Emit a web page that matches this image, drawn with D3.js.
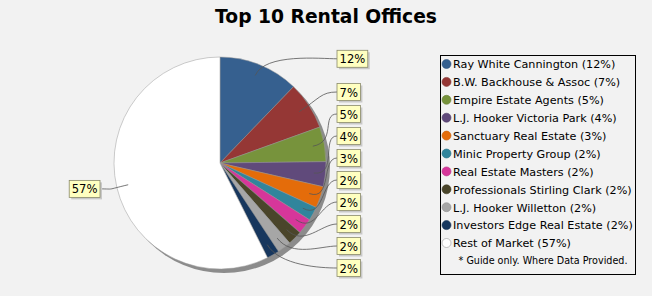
<!DOCTYPE html>
<html>
<head>
<meta charset="utf-8">
<script src="https://cdn.jsdelivr.net/npm/d3@7"></script>
<style>
  body { margin: 0; background: #f2f2f2; }
  svg { display: block; font-family: "DejaVu Sans", sans-serif; }
</style>
</head>
<body>
<div id="chart"></div>
<script>
// slices, clockwise from 12 o'clock
const offices = [
  "Ray White Cannington", "B.W. Backhouse & Assoc", "Empire Estate Agents",
  "L.J. Hooker Victoria Park", "Sanctuary Real Estate", "Minic Property Group",
  "Real Estate Masters", "Professionals Stirling Clark", "L.J. Hooker Willetton",
  "Investors Edge Real Estate", "Rest of Market"
];
const shares = [12.2, 7.3, 5.3, 3.8, 3.3, 2.1, 2.4, 2.2, 2.1, 1.9, 57.4];
const colors = [
  "#36608f", "#953735", "#77933c", "#604a7b", "#e46c0a", "#31859c",
  "#d6369a", "#4a452a", "#a6a6a6", "#17375e", "#ffffff"
];
const title = "Top 10 Rental Offices";
const footnote = "* Guide only. Where Data Provided.";

const width = 652, height = 296;
const cx = 220, cy = 163, r = 106;

const data = offices.map((name, i) => ({ name, share: shares[i], color: colors[i] }));
const pct = d => Math.round(d.share) + "%";

const svg = d3.select("#chart").append("svg")
  .attr("width", width).attr("height", height);

svg.append("rect").attr("width", width).attr("height", height).attr("fill", "#f2f2f2");

svg.append("text")
  .attr("x", 326).attr("y", 23)
  .attr("text-anchor", "middle")
  .style("font-size", "18.7px").style("font-weight", "bold")
  .text(title);

const pie = d3.pie().sort(null).value(d => d.share);
const arcs = pie(data);
const arc = d3.arc().innerRadius(0).outerRadius(r);

const g = svg.append("g").attr("transform", `translate(${cx},${cy})`);

// shadow
g.append("circle").attr("cx", 4).attr("cy", 4).attr("r", r).attr("fill", "#8c8c8c");

g.selectAll("path.slice")
  .data(arcs)
  .join("path")
  .attr("class", "slice")
  .attr("d", arc)
  .attr("fill", d => d.data.color)
  .attr("stroke", "#9a9a9a")
  .attr("stroke-width", 0.5);

// labels
const mid = d => (d.startAngle + d.endAngle) / 2;
const gap = 22, bottomY = 268 - cy;
const idealY = d => -Math.cos(mid(d)) * r * 1.06;

const right = arcs.filter(d => mid(d) < Math.PI);
const left = arcs.filter(d => mid(d) >= Math.PI);

// pack right side labels upward from the bottom bound
right.forEach(d => d.ly = idealY(d));
for (let i = right.length - 1; i >= 0; i--) {
  if (i === right.length - 1) { right[i].ly = bottomY; continue; }
  right[i].ly = Math.min(right[i].ly, right[i + 1].ly - gap);
}
right.forEach(d => { d.side = 1; d.lx = r + 11; });
left.forEach(d => { d.side = -1; d.lx = -(r + 14); d.ly = idealY(d); });

const labelled = right.concat(left);

const linkG = g.append("g");
labelled.forEach(d => {
  const a = mid(d);
  const ax = Math.sin(a) * r * 0.89, ay = -Math.cos(a) * r * 0.89;
  const c1x = Math.sin(a) * r * 1.12, c1y = -Math.cos(a) * r * 1.12;
  const c2x = d.lx - d.side * 16, c2y = d.ly;
  linkG.append("path")
    .attr("d", `M${ax},${ay} C${c1x},${c1y} ${c2x},${c2y} ${d.lx},${d.ly}`)
    .attr("fill", "none")
    .attr("stroke", "#555")
    .attr("stroke-width", 0.8);
});

const labG = g.selectAll("g.lab").data(labelled).join("g").attr("class", "lab");
labG.each(function (d) {
  const sel = d3.select(this);
  const t = sel.append("text")
    .attr("y", d.ly + 4.5)
    .style("font-size", "11.6px")
    .text(pct(d.data));
  const w = t.node().getComputedTextLength() + 5;
  const x0 = d.side > 0 ? d.lx : d.lx - w;
  t.attr("x", x0 + 2.5);
  sel.insert("rect", "text")
    .attr("x", x0 + 2).attr("y", d.ly - 8.5 + 2)
    .attr("width", w).attr("height", 17)
    .attr("fill", "#c8c8c8");
  sel.insert("rect", "text")
    .attr("x", x0).attr("y", d.ly - 8.5)
    .attr("width", w).attr("height", 17)
    .attr("fill", "#ffffc0")
    .attr("stroke", "#8a8a6a")
    .attr("stroke-width", 0.8);
});

// legend
const lg = svg.append("g");
lg.append("rect")
  .attr("x", 440.5).attr("y", 55.5).attr("width", 195).attr("height", 219)
  .attr("fill", "#f2f2f2").attr("stroke", "#000").attr("stroke-width", 1);

const rowY = d3.scalePoint().domain(offices).range([64, 243]);
const items = lg.selectAll("g.item").data(data).join("g").attr("class", "item")
  .attr("transform", d => `translate(0,${rowY(d.name)})`);
items.append("circle")
  .attr("cx", 446.5).attr("cy", 0).attr("r", 4.5)
  .attr("fill", d => d.color)
  .attr("stroke", d => d.color === "#ffffff" ? "#999" : d3.color(d.color).darker(0.4))
  .attr("stroke-width", 0.6);
items.append("text")
  .attr("x", 453).attr("y", 4.3)
  .style("font-size", "11.2px")
  .text(d => `${d.name} (${pct(d)})`);

lg.append("text")
  .attr("x", 543).attr("y", 264)
  .attr("text-anchor", "middle")
  .style("font-size", "9.6px")
  .text(footnote);
</script>
</body>
</html>
